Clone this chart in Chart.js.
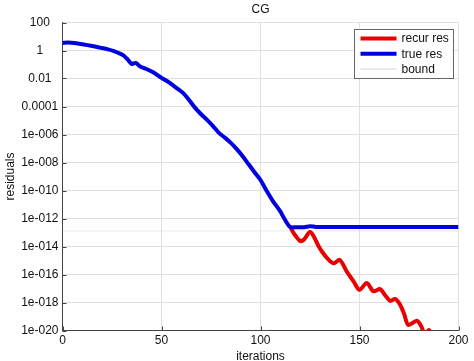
<!DOCTYPE html>
<html>
<head>
<meta charset="utf-8">
<title>CG</title>
<script src="https://cdn.jsdelivr.net/npm/chart.js@4.4.0/dist/chart.umd.min.js"></script>
<style>
  html, body { margin: 0; padding: 0; background: #fff; }
  canvas { display: block; }
</style>
</head>
<body>
<canvas id="cg" width="474" height="361"></canvas>
<script>
// values
const trueIters = [0, 3, 6, 10, 15, 19, 23, 26, 29, 31, 33, 35, 37, 39, 42, 46, 50, 54, 58, 61, 64, 67, 70, 73, 76, 79, 82, 85, 88, 91, 94, 97, 100, 103, 106, 110, 112, 115, 118, 122, 125, 128, 140, 160, 180, 200];
const trueRes = [3.5, 3.7, 3.4, 2.8, 2.1, 1.6, 1.2, 0.9, 0.6, 0.42, 0.22, 0.11, 0.13, 0.076, 0.05, 0.027, 0.011, 5e-3, 1.9e-3, 9e-4, 2.8e-4, 8e-5, 2.8e-5, 1.1e-5, 4e-6, 1.3e-6, 6e-7, 2.5e-7, 9e-8, 2.8e-8, 7.5e-9, 2e-9, 5.6e-10, 1e-10, 2e-11, 3.2e-12, 1e-12, 2.5e-13, 2.4e-13, 2.4e-13, 2.8e-13, 2.5e-13, 2.5e-13, 2.5e-13, 2.5e-13, 2.5e-13];

const recurIters = [115, 117, 120, 122, 125, 127, 129, 131, 134, 137, 140, 143.6, 147, 150, 153.7, 157, 160.4, 163, 165.5, 168, 170.5, 172.5, 174.7, 179, 181.5, 183, 185, 188];
const recurRes = [2.5e-13, 8e-14, 2.5e-14, 3.2e-14, 1.1e-13, 5e-14, 1.3e-14, 4.4e-15, 1.3e-15, 6.3e-16, 1.1e-15, 1.6e-16, 3.2e-17, 8e-18, 2.5e-17, 6.3e-18, 9e-18, 3.2e-18, 1.3e-18, 1.8e-18, 7e-19, 1.6e-19, 2.5e-20, 5e-20, 1.6e-20, 4e-21, 1.1e-20, 2.5e-21];

const boundIters = [0, 200];
const boundRes = [1.3e-13, 1.3e-13];

const xTicks = [0, 50, 100, 150, 200];
const yTicks = [1e2, 1, 1e-2, 1e-4, 1e-6, 1e-8, 1e-10, 1e-12, 1e-14, 1e-16, 1e-18, 1e-20];
const yTickLabels = ['100', '1', '0.01', '0.0001', '1e-006', '1e-008', '1e-010', '1e-012', '1e-014', '1e-016', '1e-018', '1e-020'];

function toPoints(xs, ys) {
  return xs.map((x, i) => ({ x: x, y: ys[i] }));
}

Chart.defaults.font.family = "'Liberation Sans', Arial, sans-serif";
Chart.defaults.font.size = 12;
Chart.defaults.color = '#111';

// inward ticks, title and the boxed legend, MATLAB style
const matlabBits = {
  id: 'matlabBits',
  beforeDatasetsDraw(chart) {
    const c = chart.ctx;
    const a = chart.chartArea;
    c.save();
    c.strokeStyle = '#444';
    c.lineWidth = 1;
    c.beginPath();
    xTicks.forEach(v => {
      const px = Math.round(chart.scales.x.getPixelForValue(v)) + 0.5;
      c.moveTo(px, a.bottom);
      c.lineTo(px, a.bottom - 4);
    });
    yTicks.forEach(v => {
      const py = Math.round(chart.scales.y.getPixelForValue(v)) + 0.5;
      c.moveTo(a.left, py);
      c.lineTo(a.left + 4, py);
    });
    c.stroke();
    c.restore();
  },
  afterDatasetsDraw(chart) {
    const c = chart.ctx;
    const a = chart.chartArea;
    const w = 99, h = 49;
    const bx = a.right - 6 - w, by = a.top + 6;
    c.save();
    c.fillStyle = '#fff';
    c.fillRect(bx, by, w, h);
    c.strokeStyle = '#666';
    c.lineWidth = 1;
    c.strokeRect(Math.round(bx) + 0.5, Math.round(by) + 0.5, w, h);
    c.font = "12px 'Liberation Sans', Arial, sans-serif";
    c.textBaseline = 'middle';
    c.textAlign = 'left';
    chart.data.datasets.forEach((ds, i) => {
      const ry = by + 10 + i * 15.3;
      c.strokeStyle = ds.borderColor;
      c.lineWidth = ds.borderWidth;
      c.beginPath();
      c.moveTo(bx + 7, ry);
      c.lineTo(bx + 43, ry);
      c.stroke();
      c.fillStyle = '#111';
      c.fillText(ds.label, bx + 48, ry + 0.5);
    });
    c.restore();
  },
  afterDraw(chart) {
    const c = chart.ctx;
    const a = chart.chartArea;
    c.save();
    c.font = "12px 'Liberation Sans', Arial, sans-serif";
    c.fillStyle = '#111';
    c.textAlign = 'center';
    c.textBaseline = 'middle';
    c.fillText('CG', (a.left + a.right) / 2, 10);
    c.restore();
  }
};

const ctx = document.getElementById('cg');

const cg = new Chart(ctx, {
  type: 'line',
  data: {
    datasets: [{
      label: 'recur res',
      data: toPoints(recurIters, recurRes),
      borderColor: 'rgb(235, 0, 0)',
      borderWidth: 4,
      pointRadius: 0,
      tension: 0.3,
      order: 2,
      clip: { left: 5, top: 5, right: 5, bottom: 0 }
    }, {
      label: 'true res',
      data: toPoints(trueIters, trueRes),
      borderColor: 'rgb(0, 0, 225)',
      borderWidth: 4,
      pointRadius: 0,
      tension: 0.3,
      order: 1
    }, {
      label: 'bound',
      data: toPoints(boundIters, boundRes),
      borderColor: 'rgb(212, 212, 212)',
      borderWidth: 1,
      borderDash: [1, 1],
      pointRadius: 0,
      order: 3
    }]
  },
  options: {
    responsive: false,
    animation: false,
    layout: { padding: { top: 22.5, right: 15.5, left: 0, bottom: 0 } },
    plugins: {
      legend: { display: false },
      title: { display: false },
      tooltip: { enabled: false }
    },
    scales: {
      x: {
        type: 'linear',
        min: 0,
        max: 200,
        afterFit: (s) => { s.height = 30.5; },
        afterBuildTicks: (s) => { s.ticks = xTicks.map(v => ({ value: v })); },
        grid: { color: 'rgb(224, 224, 224)', drawTicks: false },
        border: { color: '#444', width: 1 },
        ticks: { padding: 3, autoSkip: false, maxRotation: 0, color: '#111' },
        title: { display: true, text: 'iterations', padding: { top: 0, bottom: -3 }, color: '#111' }
      },
      y: {
        type: 'logarithmic',
        min: 1e-20,
        max: 100,
        afterFit: (s) => { s.width = 62.5; },
        afterBuildTicks: (s) => { s.ticks = yTicks.map(v => ({ value: v })); },
        grid: { color: 'rgb(224, 224, 224)', drawTicks: false },
        border: { color: '#444', width: 1 },
        ticks: {
          padding: 4,
          autoSkip: false,
          crossAlign: 'center',
          color: '#111',
          callback: (v) => {
            const i = yTicks.findIndex(t => Math.abs(Math.log10(t) - Math.log10(v)) < 0.01);
            return i >= 0 ? yTickLabels[i] : '';
          }
        },
        title: { display: true, text: 'residuals', padding: { top: 3, bottom: 0 }, color: '#111' }
      }
    }
  },
  plugins: [matlabBits]
});
</script>
</body>
</html>
